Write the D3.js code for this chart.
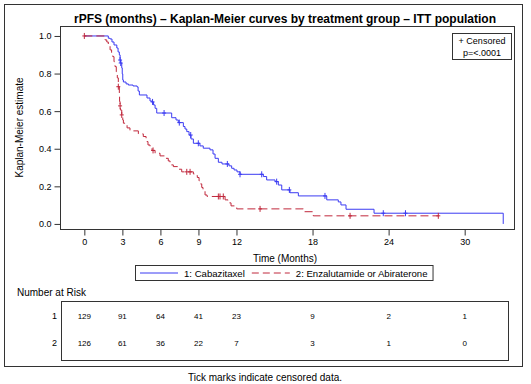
<!DOCTYPE html>
<html>
<head>
<meta charset="utf-8">
<script src="https://cdn.jsdelivr.net/npm/d3@7"></script>
<style>
  body { margin: 0; background: #fff; }
  text { font-family: "Liberation Sans", Arial, sans-serif; fill: #000; }
</style>
</head>
<body>
<script>
// number at risk table
const riskTimes = [0, 3, 6, 9, 12, 18, 24, 30];
const riskGroups = ["1", "2"];
const riskCaba = [129, 91, 64, 41, 23, 9, 2, 1];
const riskEnza = [126, 61, 36, 22, 7, 3, 1, 0];
const yTicks = [0, 0.2, 0.4, 0.6, 0.8, 1.0];

// group 1: Cabazitaxel (step times / survival after step)
const cabaTimes = [0, 1.89, 2.03, 2.18, 2.34, 2.56, 2.66, 2.76, 2.82, 2.87, 2.95, 2.99, 3.03, 3.08, 3.29, 3.47, 3.84, 4.16, 4.24, 4.34,
    4.94, 5.18, 5.32, 5.46, 5.58, 5.71, 6.89, 7.23, 7.41, 7.81, 7.94, 8.08, 8.26, 8.41, 8.60, 9.12, 9.38, 9.91, 10.15, 10.31,
    10.57, 10.86, 11.41, 11.62, 11.81, 12.04, 12.28, 14.12, 14.38, 15.04, 15.30, 15.57, 16.22, 16.88, 19.12, 20.03, 20.24, 20.64, 22.85, 33.04];
const cabaSurv = [1.0, 0.988, 0.984, 0.968, 0.952, 0.936, 0.915, 0.899, 0.872, 0.856, 0.830, 0.798, 0.766, 0.755, 0.745, 0.739, 0.734, 0.729, 0.707, 0.686,
    0.670, 0.654, 0.649, 0.633, 0.615, 0.590, 0.565, 0.553, 0.539, 0.518, 0.505, 0.491, 0.473, 0.452, 0.429, 0.415, 0.403, 0.394, 0.372, 0.349,
    0.328, 0.319, 0.309, 0.296, 0.287, 0.277, 0.264, 0.252, 0.234, 0.225, 0.207, 0.181, 0.166, 0.149, 0.128, 0.117, 0.101, 0.078, 0.057, 0.0];
const cabaCensored = [2.82, 2.87, 5.38, 6.29, 7.49, 8.39, 8.99, 11.28, 12.28, 13.99, 15.17, 16.17, 18.98, 23.58, 25.33];

// group 2: Enzalutamide or Abiraterone
const enzaTimes = [0, 1.63, 1.77, 1.89, 2.03, 2.15, 2.24, 2.34, 2.42, 2.52, 2.60, 2.68, 2.76, 2.78, 2.82, 2.84, 2.95, 3.03, 3.08, 3.21,
    3.37, 3.60, 4.26, 4.65, 4.87, 5.02, 5.18, 5.34, 5.58, 5.97, 6.36, 6.62, 6.76, 7.02, 7.41, 7.68, 8.60, 8.73, 8.91, 9.05,
    9.12, 9.26, 9.36, 9.52, 9.68, 11.10, 11.33, 11.57, 12.02, 17.27, 18.06, 27.92];
const enzaSurv = [1.0, 0.979, 0.968, 0.952, 0.926, 0.910, 0.890, 0.863, 0.837, 0.809, 0.777, 0.730, 0.686, 0.651, 0.628, 0.606, 0.580, 0.553, 0.536, 0.527,
    0.511, 0.495, 0.479, 0.465, 0.438, 0.420, 0.403, 0.391, 0.376, 0.362, 0.349, 0.335, 0.314, 0.305, 0.291, 0.277, 0.266, 0.258, 0.247, 0.229,
    0.213, 0.194, 0.176, 0.154, 0.146, 0.128, 0.112, 0.096, 0.080, 0.065, 0.043, 0.043];
const enzaCensored = [0, 2.68, 2.82, 2.95, 5.42, 8.08, 8.34, 10.57, 10.70, 10.96, 13.86, 20.96, 27.92];

const blue = "#3b3bf2", red = "#c0283c";

const W = 531, H = 384;
const plot = {left: 60, right: 514, top: 26, bottom: 229};

let svg = d3.select("body")
    .append("svg")
    .attr("width", W)
    .attr("height", H);

// outer frame
svg.append("rect")
    .attr("x", 4.5).attr("y", 4.5)
    .attr("width", 518).attr("height", 362)
    .attr("fill", "none").attr("stroke", "#333");

svg.append("text")
    .attr("x", 285).attr("y", 23)
    .attr("text-anchor", "middle")
    .style("font-size", "12px").style("font-weight", "bold")
    .text("rPFS (months) \u2013 Kaplan-Meier curves by treatment group \u2013 ITT population");

let xScale = d3.scaleLinear()
    .domain([-1.92, 33.89])
    .range([plot.left, plot.right]);

let yScale = d3.scaleLinear()
    .domain([-0.027, 1.053])
    .range([plot.bottom, plot.top]);

// plot frame
svg.append("rect")
    .attr("x", plot.left + 0.5).attr("y", plot.top + 0.5)
    .attr("width", plot.right - plot.left).attr("height", plot.bottom - plot.top)
    .attr("fill", "none").attr("stroke", "#333");

// axes
let xAxis = svg.append("g")
    .attr("transform", "translate(0," + (plot.bottom + 0.5) + ")")
    .call(d3.axisBottom(xScale).tickValues(riskTimes).tickSize(6).tickPadding(3));
let yAxis = svg.append("g")
    .attr("transform", "translate(" + (plot.left + 0.5) + ",0)")
    .call(d3.axisLeft(yScale).tickValues(yTicks).tickFormat(d3.format(".1f")).tickSize(6).tickPadding(3));
[xAxis, yAxis].forEach(g => {
    g.select(".domain").remove();
    g.selectAll("line").attr("stroke", "#333");
    g.selectAll("text").style("font-size", "9px").style("font-family", "'Liberation Sans', Arial, sans-serif");
});

svg.append("text")
    .attr("x", 285).attr("y", 262)
    .attr("text-anchor", "middle")
    .style("font-size", "10px")
    .text("Time (Months)");

svg.append("text")
    .attr("transform", "translate(23," + ((plot.top + plot.bottom) / 2) + ") rotate(-90)")
    .attr("text-anchor", "middle")
    .style("font-size", "10px")
    .text("Kaplan-Meier estimate");

// curves
let valueline = d3.line()
    .curve(d3.curveStepAfter)
    .x(d => xScale(d[0]))
    .y(d => yScale(d[1]));

function drawGroup(times, surv, cens, color, dash) {
    let pts = times.map((t, i) => [t, surv[i]]);
    svg.append("path")
        .datum(pts)
        .attr("d", valueline)
        .attr("fill", "none")
        .attr("stroke", color)
        .attr("stroke-width", 1)
        .attr("stroke-dasharray", dash);
    svg.selectAll(null)
        .data(cens)
        .enter()
        .append("path")
        .attr("d", t => {
            let i = d3.bisectRight(times, t) - 1;
            let cx = xScale(t), cy = yScale(surv[Math.max(i, 0)]);
            return "M" + (cx - 2) + "," + cy + "H" + (cx + 2) + "M" + cx + "," + (cy - 3) + "V" + (cy + 3);
        })
        .attr("stroke", color)
        .attr("stroke-width", 1)
        .attr("fill", "none");
}
drawGroup(cabaTimes, cabaSurv, cabaCensored, blue, null);
drawGroup(enzaTimes, enzaSurv, enzaCensored, red, "8,4");

// censored / p-value inset
svg.append("rect")
    .attr("x", 452.5).attr("y", 33.5)
    .attr("width", 59).attr("height", 26)
    .attr("fill", "#fff").attr("stroke", "#333");
svg.append("text")
    .attr("x", 482).attr("y", 44)
    .attr("text-anchor", "middle")
    .style("font-size", "9px")
    .text("+ Censored");
svg.append("text")
    .attr("x", 482).attr("y", 56)
    .attr("text-anchor", "middle")
    .style("font-size", "9px")
    .text("p=<.0001");

// legend
let legend = svg.append("g");
let legendItems = [
    {label: "1: Cabazitaxel", color: blue, dash: null},
    {label: "2: Enzalutamide or Abiraterone", color: red, dash: "7,4"}
];
let lx = 140, ly = 273;
legendItems.forEach(item => {
    legend.append("line")
        .attr("x1", lx).attr("x2", lx + 38)
        .attr("y1", ly).attr("y2", ly)
        .attr("stroke", item.color)
        .attr("stroke-dasharray", item.dash);
    let t = legend.append("text")
        .attr("x", lx + 44).attr("y", ly + 3.5)
        .style("font-size", "9.6px")
        .text(item.label);
    lx += 44 + t.node().getComputedTextLength() + 7;
});
let lw = lx - 7 + 5 - 135;
legend.insert("rect", ":first-child")
    .attr("x", 135.5).attr("y", 265.5)
    .attr("width", lw).attr("height", 15)
    .attr("fill", "#fff").attr("stroke", "#333");

// number at risk
svg.append("text")
    .attr("x", 17).attr("y", 296)
    .style("font-size", "10px")
    .text("Number at Risk");
svg.append("rect")
    .attr("x", 61.5).attr("y", 301.5)
    .attr("width", 447).attr("height", 59)
    .attr("fill", "none").attr("stroke", "#333");

[riskCaba, riskEnza].forEach((row, r) => {
    let ry = 319 + r * 27;
    svg.append("text")
        .attr("x", 57).attr("y", ry)
        .attr("text-anchor", "end")
        .style("font-size", "9px")
        .text(riskGroups[r]);
    svg.selectAll(null)
        .data(row)
        .enter()
        .append("text")
        .attr("x", (d, i) => xScale(riskTimes[i]))
        .attr("y", ry)
        .attr("text-anchor", "middle")
        .style("font-size", "8px")
        .text(d => d);
});

svg.append("text")
    .attr("x", 265).attr("y", 381)
    .attr("text-anchor", "middle")
    .style("font-size", "11px")
    .style("font-family", "'Liberation Sans Narrow', 'Liberation Sans', Arial, sans-serif")
    .attr("textLength", 154)
    .attr("lengthAdjust", "spacingAndGlyphs")
    .text("Tick marks indicate censored data.");
</script>
</body>
</html>
